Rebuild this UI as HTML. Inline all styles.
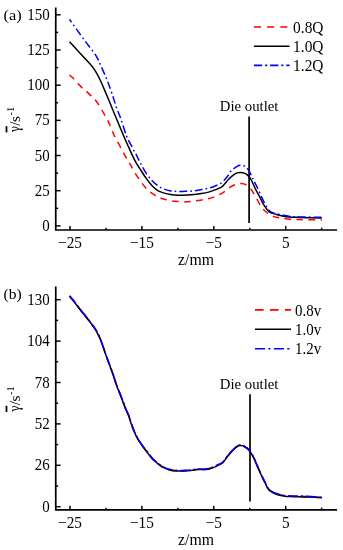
<!DOCTYPE html>
<html><head><meta charset="utf-8"><style>
html,body{margin:0;padding:0;background:#fff;}
svg{display:block;}
.t{font-family:'Liberation Serif','Times New Roman',serif;font-size:15.8px;fill:#000;}
</style></head><body>
<svg width="343" height="550" viewBox="0 0 343 550">
<rect width="343" height="550" fill="#fff"/>
<path d="M55.75,7.4 V230.0 H337" fill="none" stroke="#000" stroke-width="1.7" stroke-linejoin="miter"/>
<line x1="55.75" y1="225.90" x2="60.65" y2="225.90" stroke="#000" stroke-width="1.45"/>
<text x="49.7" y="230.90" text-anchor="end" class="t" textLength="7.47" lengthAdjust="spacingAndGlyphs">0</text>
<line x1="55.75" y1="190.72" x2="60.65" y2="190.72" stroke="#000" stroke-width="1.45"/>
<text x="49.7" y="195.72" text-anchor="end" class="t" textLength="14.93" lengthAdjust="spacingAndGlyphs">25</text>
<line x1="55.75" y1="155.54" x2="60.65" y2="155.54" stroke="#000" stroke-width="1.45"/>
<text x="49.7" y="160.54" text-anchor="end" class="t" textLength="14.93" lengthAdjust="spacingAndGlyphs">50</text>
<line x1="55.75" y1="120.35" x2="60.65" y2="120.35" stroke="#000" stroke-width="1.45"/>
<text x="49.7" y="125.35" text-anchor="end" class="t" textLength="14.93" lengthAdjust="spacingAndGlyphs">75</text>
<line x1="55.75" y1="85.17" x2="60.65" y2="85.17" stroke="#000" stroke-width="1.45"/>
<text x="49.7" y="90.17" text-anchor="end" class="t" textLength="22.40" lengthAdjust="spacingAndGlyphs">100</text>
<line x1="55.75" y1="49.99" x2="60.65" y2="49.99" stroke="#000" stroke-width="1.45"/>
<text x="49.7" y="54.99" text-anchor="end" class="t" textLength="22.40" lengthAdjust="spacingAndGlyphs">125</text>
<line x1="55.75" y1="14.81" x2="60.65" y2="14.81" stroke="#000" stroke-width="1.45"/>
<text x="49.7" y="19.81" text-anchor="end" class="t" textLength="22.40" lengthAdjust="spacingAndGlyphs">150</text>
<line x1="55.75" y1="208.31" x2="58.15" y2="208.31" stroke="#000" stroke-width="1.45"/>
<line x1="55.75" y1="173.13" x2="58.15" y2="173.13" stroke="#000" stroke-width="1.45"/>
<line x1="55.75" y1="137.94" x2="58.15" y2="137.94" stroke="#000" stroke-width="1.45"/>
<line x1="55.75" y1="102.76" x2="58.15" y2="102.76" stroke="#000" stroke-width="1.45"/>
<line x1="55.75" y1="67.58" x2="58.15" y2="67.58" stroke="#000" stroke-width="1.45"/>
<line x1="55.75" y1="32.40" x2="58.15" y2="32.40" stroke="#000" stroke-width="1.45"/>
<line x1="70.00" y1="230.0" x2="70.00" y2="225.9" stroke="#000" stroke-width="1.45"/>
<text x="70.00" y="247.90" text-anchor="middle" class="t" textLength="23.85" lengthAdjust="spacingAndGlyphs">−25</text>
<line x1="141.90" y1="230.0" x2="141.90" y2="225.9" stroke="#000" stroke-width="1.45"/>
<text x="141.90" y="247.90" text-anchor="middle" class="t" textLength="23.85" lengthAdjust="spacingAndGlyphs">−15</text>
<line x1="213.80" y1="230.0" x2="213.80" y2="225.9" stroke="#000" stroke-width="1.45"/>
<text x="213.80" y="247.90" text-anchor="middle" class="t" textLength="16.22" lengthAdjust="spacingAndGlyphs">−5</text>
<line x1="285.70" y1="230.0" x2="285.70" y2="225.9" stroke="#000" stroke-width="1.45"/>
<text x="285.70" y="247.90" text-anchor="middle" class="t" textLength="7.62" lengthAdjust="spacingAndGlyphs">5</text>
<line x1="105.95" y1="230.0" x2="105.95" y2="227.7" stroke="#000" stroke-width="1.45"/>
<line x1="177.85" y1="230.0" x2="177.85" y2="227.7" stroke="#000" stroke-width="1.45"/>
<line x1="249.75" y1="230.0" x2="249.75" y2="227.7" stroke="#000" stroke-width="1.45"/>
<line x1="321.65" y1="230.0" x2="321.65" y2="227.7" stroke="#000" stroke-width="1.45"/>
<text x="196" y="264.60" text-anchor="middle" class="t">z/mm</text>
<text x="3.6" y="19.50" class="t" style="font-size:14.8px" textLength="18.2" lengthAdjust="spacingAndGlyphs">(a)</text>
<g transform="translate(20.1,132.50) rotate(-90)"><text y="0" class="t" style="font-size:16px"><tspan x="6.7" style="font-size:15.5px">/</tspan><tspan x="10.5" style="font-size:15.3px">s</tspan></text><text x="0" y="0" class="t" style="font-family:DejaVu Serif;font-size:14px" textLength="6.6" lengthAdjust="spacingAndGlyphs">γ</text><text y="-6.3" class="t" style="font-size:10.4px"><tspan x="17.0">-</tspan><tspan x="20.4">1</tspan></text><text x="0.5" y="-0.8" class="t" style="font-size:16px" stroke="#000" stroke-width="1" textLength="5.3" lengthAdjust="spacingAndGlyphs">¯</text></g>
<text x="219.8" y="111.00" class="t" style="font-size:15px" textLength="58.6" lengthAdjust="spacingAndGlyphs">Die outlet</text>
<line x1="249.1" y1="116.4" x2="249.1" y2="223" stroke="#000" stroke-width="1.7"/>
<line x1="253.9" y1="27.00" x2="289.6" y2="27.00" stroke="#ff0000" stroke-width="1.6" stroke-dasharray="7.1 6.1"/>
<text x="293.1" y="32.50" class="t" textLength="30.38" lengthAdjust="spacingAndGlyphs">0.8Q</text>
<line x1="253.9" y1="46.20" x2="289.6" y2="46.20" stroke="#000" stroke-width="1.6"/>
<text x="293.1" y="51.70" class="t" textLength="30.38" lengthAdjust="spacingAndGlyphs">1.0Q</text>
<line x1="253.9" y1="65.40" x2="289.6" y2="65.40" stroke="#0000ff" stroke-width="1.6" stroke-dasharray="8.3 2.9 2.1 2.9"/>
<text x="293.1" y="70.90" class="t" textLength="30.38" lengthAdjust="spacingAndGlyphs">1.2Q</text>
<path d="M69.50,75.00 C70.30,75.72 72.32,77.28 74.30,79.30 C76.28,81.32 79.43,85.13 81.40,87.10 C83.37,89.07 84.55,89.72 86.10,91.10 C87.65,92.48 89.13,93.87 90.70,95.40 C92.27,96.93 94.10,98.63 95.50,100.30 C96.90,101.97 97.90,103.53 99.10,105.40 C100.30,107.27 101.52,109.45 102.70,111.50 C103.88,113.55 105.22,115.93 106.20,117.70 C107.18,119.47 107.85,120.53 108.60,122.10 C109.35,123.67 109.75,124.83 110.70,127.10 C111.65,129.37 112.87,132.72 114.30,135.70 C115.73,138.68 117.63,141.90 119.30,145.00 C120.97,148.10 122.63,151.32 124.30,154.30 C125.97,157.28 128.12,160.88 129.30,162.90 C130.48,164.92 130.45,164.73 131.40,166.40 C132.35,168.07 133.45,170.40 135.00,172.90 C136.55,175.40 138.80,178.78 140.70,181.40 C142.60,184.02 144.50,186.62 146.40,188.60 C148.30,190.58 150.18,191.92 152.10,193.30 C154.02,194.68 155.98,195.95 157.90,196.90 C159.82,197.85 161.47,198.37 163.60,199.00 C165.73,199.63 168.32,200.30 170.70,200.70 C173.08,201.10 175.63,201.20 177.90,201.40 C180.17,201.60 182.05,201.90 184.30,201.90 C186.55,201.90 189.02,201.65 191.40,201.40 C193.78,201.15 196.22,200.75 198.60,200.40 C200.98,200.05 203.32,199.80 205.70,199.30 C208.08,198.80 210.52,198.23 212.90,197.40 C215.28,196.57 217.87,195.42 220.00,194.30 C222.13,193.18 223.80,192.02 225.70,190.70 C227.60,189.38 229.50,187.52 231.40,186.40 C233.30,185.28 235.43,184.47 237.10,184.00 C238.77,183.53 239.97,183.48 241.40,183.60 C242.83,183.72 244.20,183.88 245.70,184.70 C247.20,185.52 249.10,187.10 250.40,188.50 C251.70,189.90 252.40,191.32 253.50,193.10 C254.60,194.88 255.83,197.15 257.00,199.20 C258.17,201.25 259.33,203.60 260.50,205.40 C261.67,207.20 262.68,208.62 264.00,210.00 C265.32,211.38 266.95,212.70 268.40,213.70 C269.85,214.70 271.43,215.42 272.70,216.00 C273.97,216.58 274.55,216.85 276.00,217.20 C277.45,217.55 279.07,217.75 281.40,218.10 C283.73,218.45 287.07,219.05 290.00,219.30 C292.93,219.55 293.68,219.50 299.00,219.60 C304.32,219.70 318.08,219.85 321.90,219.90" fill="none" stroke="#ff0000" stroke-width="1.5" stroke-dasharray="6.6 5.4" stroke-dashoffset="0.34"/>
<path d="M69.50,41.70 C70.77,43.07 74.60,47.20 77.10,49.90 C79.60,52.60 82.42,55.63 84.50,57.90 C86.58,60.17 88.08,61.75 89.60,63.50 C91.12,65.25 92.33,66.62 93.60,68.40 C94.87,70.18 96.15,72.35 97.20,74.20 C98.25,76.05 99.08,77.82 99.90,79.50 C100.72,81.18 100.88,81.52 102.10,84.30 C103.32,87.08 105.58,92.35 107.20,96.20 C108.82,100.05 110.18,103.48 111.80,107.40 C113.42,111.32 114.93,114.98 116.90,119.70 C118.87,124.42 121.53,130.88 123.60,135.70 C125.67,140.52 127.52,144.67 129.30,148.60 C131.08,152.53 132.87,156.45 134.30,159.30 C135.73,162.15 136.83,163.92 137.90,165.70 C138.97,167.48 139.28,167.85 140.70,170.00 C142.12,172.15 144.50,175.98 146.40,178.60 C148.30,181.22 150.18,183.68 152.10,185.70 C154.02,187.72 155.98,189.50 157.90,190.70 C159.82,191.90 161.47,192.27 163.60,192.90 C165.73,193.53 168.32,194.12 170.70,194.50 C173.08,194.88 175.17,195.12 177.90,195.20 C180.63,195.28 184.37,195.12 187.10,195.00 C189.83,194.88 191.92,194.73 194.30,194.50 C196.68,194.27 199.02,194.00 201.40,193.60 C203.78,193.20 206.22,192.77 208.60,192.10 C210.98,191.43 213.57,190.43 215.70,189.60 C217.83,188.77 219.97,187.98 221.40,187.10 C222.83,186.22 223.10,185.60 224.30,184.30 C225.50,183.00 227.17,180.78 228.60,179.30 C230.03,177.82 231.48,176.47 232.90,175.40 C234.32,174.33 235.80,173.40 237.10,172.90 C238.40,172.40 239.50,172.37 240.70,172.40 C241.90,172.43 243.10,172.60 244.30,173.10 C245.50,173.60 246.73,174.25 247.90,175.40 C249.07,176.55 250.08,177.82 251.30,180.00 C252.52,182.18 253.82,185.73 255.20,188.50 C256.58,191.27 258.28,194.08 259.60,196.60 C260.92,199.12 261.93,201.55 263.10,203.60 C264.27,205.65 265.43,207.43 266.60,208.90 C267.77,210.37 268.63,211.53 270.10,212.40 C271.57,213.27 273.52,213.53 275.40,214.10 C277.28,214.67 279.20,215.33 281.40,215.80 C283.60,216.27 285.67,216.63 288.60,216.90 C291.53,217.17 293.45,217.22 299.00,217.40 C304.55,217.58 318.08,217.90 321.90,218.00" fill="none" stroke="#000" stroke-width="1.5"/>
<path d="M69.50,19.40 C71.97,22.83 80.65,35.02 84.30,40.00 C87.95,44.98 89.38,46.58 91.40,49.30 C93.42,52.02 95.07,54.12 96.40,56.30 C97.73,58.48 98.38,60.22 99.40,62.40 C100.42,64.58 101.47,67.07 102.50,69.40 C103.53,71.73 104.73,74.37 105.60,76.40 C106.47,78.43 107.08,80.00 107.70,81.60 C108.32,83.20 108.43,83.57 109.30,86.00 C110.17,88.43 111.72,92.63 112.90,96.20 C114.08,99.77 115.05,103.57 116.40,107.40 C117.75,111.23 119.33,114.48 121.00,119.20 C122.67,123.92 124.55,131.05 126.40,135.70 C128.25,140.35 130.32,143.65 132.10,147.10 C133.88,150.55 135.67,153.65 137.10,156.40 C138.53,159.15 139.15,160.73 140.70,163.60 C142.25,166.47 144.50,170.75 146.40,173.60 C148.30,176.45 150.18,178.68 152.10,180.70 C154.02,182.72 155.98,184.33 157.90,185.70 C159.82,187.07 161.47,188.03 163.60,188.90 C165.73,189.77 168.32,190.47 170.70,190.90 C173.08,191.33 175.17,191.43 177.90,191.50 C180.63,191.57 184.37,191.40 187.10,191.30 C189.83,191.20 191.92,191.18 194.30,190.90 C196.68,190.62 199.02,190.05 201.40,189.60 C203.78,189.15 206.22,188.85 208.60,188.20 C210.98,187.55 213.57,186.58 215.70,185.70 C217.83,184.82 219.73,184.08 221.40,182.90 C223.07,181.72 224.43,180.03 225.70,178.60 C226.97,177.17 228.05,175.62 229.00,174.30 C229.95,172.98 230.05,172.02 231.40,170.70 C232.75,169.38 235.43,167.30 237.10,166.40 C238.77,165.50 240.08,165.30 241.40,165.30 C242.72,165.30 243.80,165.62 245.00,166.40 C246.20,167.18 247.50,168.40 248.60,170.00 C249.70,171.60 250.78,174.33 251.60,176.00 C252.42,177.67 252.75,178.47 253.50,180.00 C254.25,181.53 255.23,183.45 256.10,185.20 C256.97,186.95 257.82,188.60 258.70,190.50 C259.58,192.40 260.58,194.85 261.40,196.60 C262.22,198.35 262.88,199.53 263.60,201.00 C264.32,202.47 264.90,203.95 265.70,205.40 C266.50,206.85 267.37,208.53 268.40,209.70 C269.43,210.87 270.60,211.73 271.90,212.40 C273.20,213.07 274.37,213.25 276.20,213.70 C278.03,214.15 280.60,214.65 282.90,215.10 C285.20,215.55 287.32,216.10 290.00,216.40 C292.68,216.70 293.68,216.75 299.00,216.90 C304.32,217.05 318.08,217.23 321.90,217.30" fill="none" stroke="#0000ff" stroke-width="1.5" stroke-dasharray="7.8 3 1.7 3" stroke-dashoffset="4.07"/>
<path d="M55.75,286.6 V509.95 H337" fill="none" stroke="#000" stroke-width="1.7" stroke-linejoin="miter"/>
<line x1="55.75" y1="506.70" x2="60.65" y2="506.70" stroke="#000" stroke-width="1.45"/>
<text x="49.7" y="511.70" text-anchor="end" class="t" textLength="7.47" lengthAdjust="spacingAndGlyphs">0</text>
<line x1="55.75" y1="465.30" x2="60.65" y2="465.30" stroke="#000" stroke-width="1.45"/>
<text x="49.7" y="470.30" text-anchor="end" class="t" textLength="14.93" lengthAdjust="spacingAndGlyphs">26</text>
<line x1="55.75" y1="423.90" x2="60.65" y2="423.90" stroke="#000" stroke-width="1.45"/>
<text x="49.7" y="428.90" text-anchor="end" class="t" textLength="14.93" lengthAdjust="spacingAndGlyphs">52</text>
<line x1="55.75" y1="382.50" x2="60.65" y2="382.50" stroke="#000" stroke-width="1.45"/>
<text x="49.7" y="387.50" text-anchor="end" class="t" textLength="14.93" lengthAdjust="spacingAndGlyphs">78</text>
<line x1="55.75" y1="341.10" x2="60.65" y2="341.10" stroke="#000" stroke-width="1.45"/>
<text x="49.7" y="346.10" text-anchor="end" class="t" textLength="22.40" lengthAdjust="spacingAndGlyphs">104</text>
<line x1="55.75" y1="299.70" x2="60.65" y2="299.70" stroke="#000" stroke-width="1.45"/>
<text x="49.7" y="304.70" text-anchor="end" class="t" textLength="22.40" lengthAdjust="spacingAndGlyphs">130</text>
<line x1="55.75" y1="486.00" x2="58.15" y2="486.00" stroke="#000" stroke-width="1.45"/>
<line x1="55.75" y1="444.60" x2="58.15" y2="444.60" stroke="#000" stroke-width="1.45"/>
<line x1="55.75" y1="403.20" x2="58.15" y2="403.20" stroke="#000" stroke-width="1.45"/>
<line x1="55.75" y1="361.80" x2="58.15" y2="361.80" stroke="#000" stroke-width="1.45"/>
<line x1="55.75" y1="320.40" x2="58.15" y2="320.40" stroke="#000" stroke-width="1.45"/>
<line x1="70.00" y1="509.95" x2="70.00" y2="505.84999999999997" stroke="#000" stroke-width="1.45"/>
<text x="70.00" y="527.85" text-anchor="middle" class="t" textLength="23.85" lengthAdjust="spacingAndGlyphs">−25</text>
<line x1="141.90" y1="509.95" x2="141.90" y2="505.84999999999997" stroke="#000" stroke-width="1.45"/>
<text x="141.90" y="527.85" text-anchor="middle" class="t" textLength="23.85" lengthAdjust="spacingAndGlyphs">−15</text>
<line x1="213.80" y1="509.95" x2="213.80" y2="505.84999999999997" stroke="#000" stroke-width="1.45"/>
<text x="213.80" y="527.85" text-anchor="middle" class="t" textLength="16.22" lengthAdjust="spacingAndGlyphs">−5</text>
<line x1="285.70" y1="509.95" x2="285.70" y2="505.84999999999997" stroke="#000" stroke-width="1.45"/>
<text x="285.70" y="527.85" text-anchor="middle" class="t" textLength="7.62" lengthAdjust="spacingAndGlyphs">5</text>
<line x1="105.95" y1="509.95" x2="105.95" y2="507.65" stroke="#000" stroke-width="1.45"/>
<line x1="177.85" y1="509.95" x2="177.85" y2="507.65" stroke="#000" stroke-width="1.45"/>
<line x1="249.75" y1="509.95" x2="249.75" y2="507.65" stroke="#000" stroke-width="1.45"/>
<line x1="321.65" y1="509.95" x2="321.65" y2="507.65" stroke="#000" stroke-width="1.45"/>
<text x="196" y="544.55" text-anchor="middle" class="t">z/mm</text>
<text x="3.6" y="298.70" class="t" style="font-size:14.8px" textLength="18.2" lengthAdjust="spacingAndGlyphs">(b)</text>
<g transform="translate(20.1,411.90) rotate(-90)"><text y="0" class="t" style="font-size:16px"><tspan x="6.7" style="font-size:15.5px">/</tspan><tspan x="10.5" style="font-size:15.3px">s</tspan></text><text x="0" y="0" class="t" style="font-family:DejaVu Serif;font-size:14px" textLength="6.6" lengthAdjust="spacingAndGlyphs">γ</text><text y="-6.3" class="t" style="font-size:10.4px"><tspan x="17.0">-</tspan><tspan x="20.4">1</tspan></text><text x="0.5" y="-0.8" class="t" style="font-size:16px" stroke="#000" stroke-width="1" textLength="5.3" lengthAdjust="spacingAndGlyphs">¯</text></g>
<text x="219.8" y="388.90" class="t" style="font-size:15px" textLength="58.6" lengthAdjust="spacingAndGlyphs">Die outlet</text>
<line x1="250" y1="394.2" x2="250" y2="501.5" stroke="#000" stroke-width="1.7"/>
<line x1="255" y1="309.90" x2="291" y2="309.90" stroke="#ff0000" stroke-width="1.6" stroke-dasharray="8.6 6.4"/>
<text x="295.0" y="315.60" class="t" textLength="26.13" lengthAdjust="spacingAndGlyphs">0.8v</text>
<line x1="255" y1="329.30" x2="291" y2="329.30" stroke="#000" stroke-width="1.6"/>
<text x="295.0" y="335.00" class="t" textLength="26.13" lengthAdjust="spacingAndGlyphs">1.0v</text>
<line x1="255" y1="348.70" x2="291" y2="348.70" stroke="#0000ff" stroke-width="1.6" stroke-dasharray="10 3.4 2.1 3.4"/>
<text x="295.0" y="354.40" class="t" textLength="26.13" lengthAdjust="spacingAndGlyphs">1.2v</text>
<path d="M69.60,296.00 C70.38,296.95 72.80,299.80 74.30,301.70 C75.80,303.60 76.93,305.25 78.60,307.40 C80.27,309.55 82.40,312.22 84.30,314.60 C86.20,316.98 88.45,319.68 90.00,321.70 C91.55,323.72 92.53,325.15 93.60,326.70 C94.67,328.25 95.33,329.08 96.40,331.00 C97.47,332.92 98.80,335.33 100.00,338.20 C101.20,341.07 102.42,344.87 103.60,348.20 C104.78,351.53 106.03,355.23 107.10,358.20 C108.17,361.17 109.03,363.38 110.00,366.00 C110.97,368.62 111.83,370.80 112.90,373.90 C113.97,377.00 114.98,380.68 116.40,384.60 C117.82,388.52 119.85,393.35 121.40,397.40 C122.95,401.45 124.50,405.92 125.70,408.90 C126.90,411.88 127.65,412.80 128.60,415.30 C129.55,417.80 130.45,421.17 131.40,423.90 C132.35,426.63 133.22,429.20 134.30,431.70 C135.38,434.20 136.60,436.63 137.90,438.90 C139.20,441.17 140.68,443.28 142.10,445.30 C143.52,447.32 144.73,448.85 146.40,451.00 C148.07,453.15 150.67,456.53 152.10,458.20 C153.53,459.87 153.80,459.93 155.00,461.00 C156.20,462.07 157.87,463.53 159.30,464.60 C160.73,465.67 161.93,466.57 163.60,467.40 C165.27,468.23 167.17,469.05 169.30,469.60 C171.43,470.15 174.02,470.52 176.40,470.70 C178.78,470.88 181.22,470.77 183.60,470.70 C185.98,470.63 188.32,470.53 190.70,470.30 C193.08,470.07 195.40,469.47 197.90,469.30 C200.40,469.13 203.45,469.53 205.70,469.30 C207.95,469.07 209.50,468.53 211.40,467.90 C213.30,467.27 215.18,466.43 217.10,465.50 C219.02,464.57 221.23,463.77 222.90,462.30 C224.57,460.83 225.68,458.47 227.10,456.70 C228.52,454.93 229.97,453.25 231.40,451.70 C232.83,450.15 234.38,448.47 235.70,447.40 C237.02,446.33 238.10,445.60 239.30,445.30 C240.50,445.00 241.83,445.25 242.90,445.60 C243.97,445.95 244.87,446.85 245.70,447.40 C246.53,447.95 247.07,448.07 247.90,448.90 C248.73,449.73 249.75,450.98 250.70,452.40 C251.65,453.82 252.65,455.48 253.60,457.40 C254.55,459.32 255.45,461.75 256.40,463.90 C257.35,466.05 258.35,468.17 259.30,470.30 C260.25,472.43 261.15,474.68 262.10,476.70 C263.05,478.72 264.03,480.48 265.00,482.40 C265.97,484.32 266.95,486.77 267.90,488.20 C268.85,489.63 269.28,490.05 270.70,491.00 C272.12,491.95 274.25,493.13 276.40,493.90 C278.55,494.67 281.22,495.20 283.60,495.60 C285.98,496.00 288.08,496.17 290.70,496.30 C293.32,496.43 296.43,496.33 299.30,496.40 C302.17,496.47 304.12,496.52 307.90,496.70 C311.68,496.88 319.65,497.37 322.00,497.50" fill="none" stroke="#ff0000" stroke-width="1.6" stroke-dasharray="7 5"/>
<path d="M69.60,296.30 C70.38,297.25 72.80,300.10 74.30,302.00 C75.80,303.90 76.93,305.55 78.60,307.70 C80.27,309.85 82.40,312.52 84.30,314.90 C86.20,317.28 88.45,319.98 90.00,322.00 C91.55,324.02 92.53,325.45 93.60,327.00 C94.67,328.55 95.33,329.38 96.40,331.30 C97.47,333.22 98.80,335.63 100.00,338.50 C101.20,341.37 102.42,345.17 103.60,348.50 C104.78,351.83 106.03,355.53 107.10,358.50 C108.17,361.47 109.03,363.68 110.00,366.30 C110.97,368.92 111.83,371.10 112.90,374.20 C113.97,377.30 114.98,380.98 116.40,384.90 C117.82,388.82 119.85,393.65 121.40,397.70 C122.95,401.75 124.50,406.22 125.70,409.20 C126.90,412.18 127.65,413.10 128.60,415.60 C129.55,418.10 130.45,421.47 131.40,424.20 C132.35,426.93 133.22,429.50 134.30,432.00 C135.38,434.50 136.60,436.93 137.90,439.20 C139.20,441.47 140.68,443.58 142.10,445.60 C143.52,447.62 144.73,449.15 146.40,451.30 C148.07,453.45 150.67,456.83 152.10,458.50 C153.53,460.17 153.80,460.23 155.00,461.30 C156.20,462.37 157.87,463.83 159.30,464.90 C160.73,465.97 161.93,466.87 163.60,467.70 C165.27,468.53 167.17,469.35 169.30,469.90 C171.43,470.45 174.02,470.82 176.40,471.00 C178.78,471.18 181.22,471.07 183.60,471.00 C185.98,470.93 188.32,470.83 190.70,470.60 C193.08,470.37 195.40,469.77 197.90,469.60 C200.40,469.43 203.45,469.83 205.70,469.60 C207.95,469.37 209.50,468.83 211.40,468.20 C213.30,467.57 215.18,466.73 217.10,465.80 C219.02,464.87 221.23,464.07 222.90,462.60 C224.57,461.13 225.68,458.77 227.10,457.00 C228.52,455.23 229.97,453.55 231.40,452.00 C232.83,450.45 234.38,448.77 235.70,447.70 C237.02,446.63 238.10,445.90 239.30,445.60 C240.50,445.30 241.83,445.55 242.90,445.90 C243.97,446.25 244.87,447.15 245.70,447.70 C246.53,448.25 247.07,448.37 247.90,449.20 C248.73,450.03 249.75,451.28 250.70,452.70 C251.65,454.12 252.65,455.78 253.60,457.70 C254.55,459.62 255.45,462.05 256.40,464.20 C257.35,466.35 258.35,468.47 259.30,470.60 C260.25,472.73 261.15,474.98 262.10,477.00 C263.05,479.02 264.03,480.78 265.00,482.70 C265.97,484.62 266.95,487.07 267.90,488.50 C268.85,489.93 269.28,490.35 270.70,491.30 C272.12,492.25 274.25,493.43 276.40,494.20 C278.55,494.97 281.22,495.50 283.60,495.90 C285.98,496.30 288.08,496.47 290.70,496.60 C293.32,496.73 296.43,496.63 299.30,496.70 C302.17,496.77 304.12,496.82 307.90,497.00 C311.68,497.18 319.65,497.67 322.00,497.80" fill="none" stroke="#000" stroke-width="1.5"/>
<path d="M69.60,295.70 C70.38,296.65 72.80,299.50 74.30,301.40 C75.80,303.30 76.93,304.95 78.60,307.10 C80.27,309.25 82.40,311.92 84.30,314.30 C86.20,316.68 88.45,319.38 90.00,321.40 C91.55,323.42 92.53,324.85 93.60,326.40 C94.67,327.95 95.33,328.78 96.40,330.70 C97.47,332.62 98.80,335.03 100.00,337.90 C101.20,340.77 102.42,344.57 103.60,347.90 C104.78,351.23 106.03,354.93 107.10,357.90 C108.17,360.87 109.03,363.08 110.00,365.70 C110.97,368.32 111.83,370.50 112.90,373.60 C113.97,376.70 114.98,380.38 116.40,384.30 C117.82,388.22 119.85,393.05 121.40,397.10 C122.95,401.15 124.50,405.62 125.70,408.60 C126.90,411.58 127.65,412.50 128.60,415.00 C129.55,417.50 130.45,420.87 131.40,423.60 C132.35,426.33 133.22,428.90 134.30,431.40 C135.38,433.90 136.60,436.33 137.90,438.60 C139.20,440.87 140.68,442.98 142.10,445.00 C143.52,447.02 144.73,448.55 146.40,450.70 C148.07,452.85 150.67,456.23 152.10,457.90 C153.53,459.57 153.80,459.63 155.00,460.70 C156.20,461.77 157.87,463.23 159.30,464.30 C160.73,465.37 161.93,466.27 163.60,467.10 C165.27,467.93 167.17,468.75 169.30,469.30 C171.43,469.85 174.02,470.22 176.40,470.40 C178.78,470.58 181.22,470.47 183.60,470.40 C185.98,470.33 188.32,470.23 190.70,470.00 C193.08,469.77 195.40,469.17 197.90,469.00 C200.40,468.83 203.45,469.23 205.70,469.00 C207.95,468.77 209.50,468.23 211.40,467.60 C213.30,466.97 215.18,466.13 217.10,465.20 C219.02,464.27 221.23,463.47 222.90,462.00 C224.57,460.53 225.68,458.17 227.10,456.40 C228.52,454.63 229.97,452.95 231.40,451.40 C232.83,449.85 234.38,448.17 235.70,447.10 C237.02,446.03 238.10,445.30 239.30,445.00 C240.50,444.70 241.83,444.95 242.90,445.30 C243.97,445.65 244.87,446.55 245.70,447.10 C246.53,447.65 247.07,447.77 247.90,448.60 C248.73,449.43 249.75,450.68 250.70,452.10 C251.65,453.52 252.65,455.18 253.60,457.10 C254.55,459.02 255.45,461.45 256.40,463.60 C257.35,465.75 258.35,467.87 259.30,470.00 C260.25,472.13 261.15,474.38 262.10,476.40 C263.05,478.42 264.03,480.18 265.00,482.10 C265.97,484.02 266.95,486.47 267.90,487.90 C268.85,489.33 269.28,489.75 270.70,490.70 C272.12,491.65 274.25,492.83 276.40,493.60 C278.55,494.37 281.22,494.90 283.60,495.30 C285.98,495.70 288.08,495.87 290.70,496.00 C293.32,496.13 296.43,496.03 299.30,496.10 C302.17,496.17 304.12,496.22 307.90,496.40 C311.68,496.58 319.65,497.07 322.00,497.20" fill="none" stroke="#0000ff" stroke-width="1.6" stroke-dasharray="10 3 2 3"/>
</svg>
</body></html>
